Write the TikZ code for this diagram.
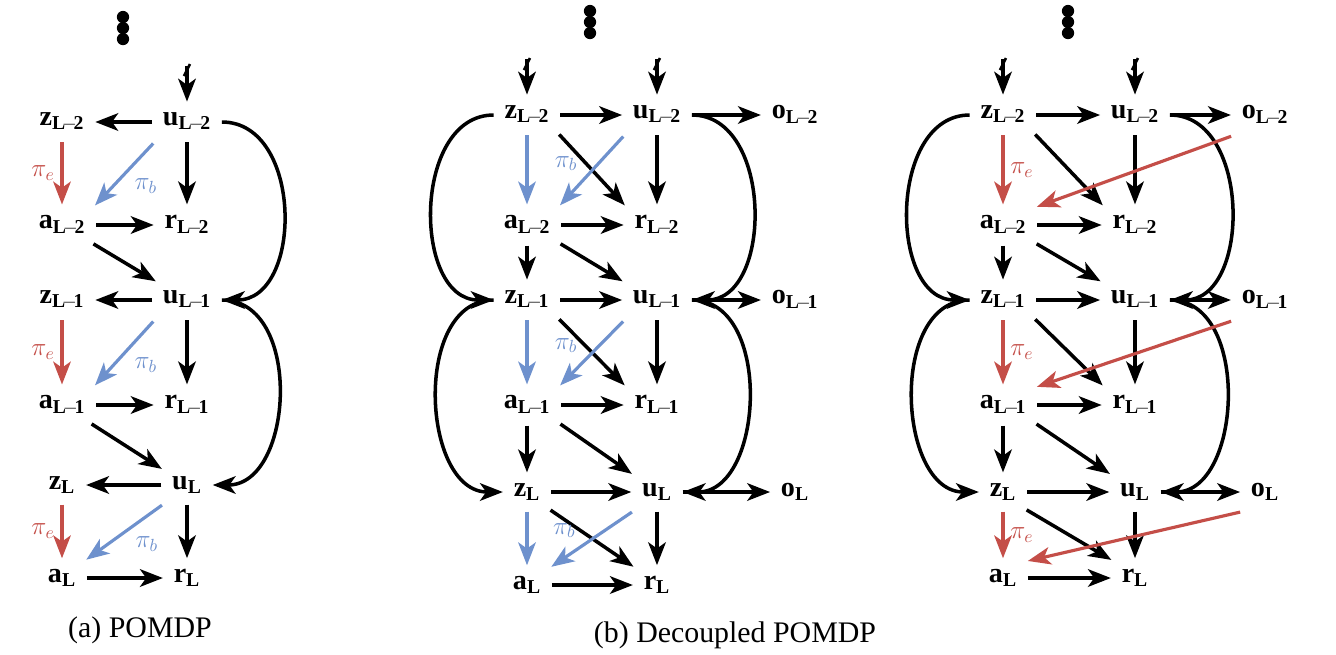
\documentclass[tikz,border=0pt]{standalone}
\usepackage{fontspec}
\setmainfont{Liberation Serif}
\usetikzlibrary{arrows.meta}
\definecolor{myred}{RGB}{196,78,72}
\definecolor{myblue}{RGB}{110,145,205}
\begin{document}
\begin{tikzpicture}[x=0.02cm,y=-0.02cm,
  v/.style={font=\fontsize{16}{18}\selectfont\bfseries, inner sep=4pt},
  e/.style={line width=2pt,-{Stealth[length=13pt,width=10pt,inset=3.5pt]},shorten >=2pt,shorten <=2pt},
  eb/.style={e,myblue,line width=1.8pt},
  er/.style={e,myred,line width=1.8pt},
  pl/.style={font=\fontsize{14}{16}\selectfont},
  dot/.style={circle,fill,inner sep=0pt,minimum size=7pt},
  captxt/.style={font=\fontsize{17}{20}\selectfont}]
\useasboundingbox (0,0) rectangle (1336,654);
\newcommand{\lb}[2]{#1$_{\mathbf{#2}}$}
\newcommand{\vdts}[3]{\node[dot] (#1a) at (#2,#3) {};\node[dot] (#1b) at (#2,#3+11) {};\node[dot] (#1c) at (#2,#3+22) {};}
% ---------- (a) ----------
\foreach \i/\s/\zy/\ay in {1/L\!-\!2/122/225,2/L\!-\!1/300/405,3/L/485/578}{
  \node[v] (Lz\i) at (62,\zy) {\lb{z}{\s}};
  \node[v] (Lu\i) at (187,\zy) {\lb{u}{\s}};
  \node[v] (La\i) at (62,\ay) {\lb{a}{\s}};
  \node[v] (Lr\i) at (187,\ay) {\lb{r}{\s}};
  \draw[e] (Lu\i) -- (Lz\i);
  \draw[e] (Lu\i) -- (Lr\i);
  \draw[e] (La\i) -- (Lr\i);
  \draw[er] (Lz\i) -- node[left,pl,myred]{$\pi_e$} (La\i);
  \draw[eb] (Lu\i.south west) ++(0,2) -- node[below right,pl,myblue,pos=0.45]{$\pi_b$} (La\i.north east);
}
\foreach \i/\j in {1/2,2/3}{
  \draw[e] (La\i) -- (Lu\j);
  \draw[e] (Lu\i.east) .. controls +(85,0) and +(85,0) .. (Lu\j.east);
}
\vdts{Ld}{123}{17}
\coordinate (Lt) at (187,62);
\draw[e] (Lt) -- (Lu1);
\draw[line width=1.5pt] (184,76) -- (190,64);
\node[captxt] (ca) at (140,630) {(a) POMDP};
% ---------- (b) and (c) ----------
\foreach \P/\zx/\ux/\ox/\ry in {M/527/657/795/585,R/1003/1135/1265/578}{
\foreach \i/\s/\zy/\ay in {1/L\!-\!2/115/225,2/L\!-\!1/300/405,3/L/492/\ry}{
  \node[v] (\P z\i) at (\zx,\zy) {\lb{z}{\s}};
  \node[v] (\P u\i) at (\ux,\zy) {\lb{u}{\s}};
  \node[v] (\P o\i) at (\ox,\zy) {\lb{o}{\s}};
  \node[v] (\P a\i) at (\zx,\ay) {\lb{a}{\s}};
  \node[v] (\P r\i) at (\ux,\ay) {\lb{r}{\s}};
  \draw[e] (\P z\i) -- (\P u\i);
  \draw[e] (\P u\i) -- (\P o\i);
  \draw[e] (\P u\i) -- (\P r\i);
  \draw[e] (\P a\i) -- (\P r\i);
  \draw[e] (\P z\i.south east) -- (\P r\i.north west);
}
\foreach \i/\j in {1/2,2/3}{
  \draw[e] (\P a\i) -- (\P z\j);
  \draw[e] (\P a\i.south east) -- (\P u\j.north west);
  \draw[e] (\P z\i.west) .. controls +(-85,0) and +(-85,0) .. (\P z\j.west);
  \draw[e] (\P u\i.east) .. controls +(85,0) and +(85,0) .. (\P u\j.east);
}
\coordinate (\P tz) at (\zx,55);
\coordinate (\P tu) at (\ux,55);
\draw[e] (\P tz) -- (\P z1);
\draw[e] (\P tu) -- (\P u1);
\draw[line width=1.5pt] (\zx-3,70) -- (\zx+3,58);
\draw[line width=1.5pt] (\ux-3,70) -- (\ux+3,58);
}
\foreach \i in {1,2,3}{
  \draw[eb] (Mz\i) -- (Ma\i);
  \draw[eb] (Mu\i.south west) ++(0,2) -- node[above left,pl,myblue,pos=0.6]{$\pi_b$} (Ma\i.north east);
  \draw[er] (Rz\i) -- node[right,pl,myred]{$\pi_e$} (Ra\i);
  \draw[er] (Ro\i.south west) ++(0,3) -- (Ra\i.north east);
}
\vdts{Md}{590}{11}
\vdts{Rd}{1068}{11}
\node[captxt] (cb) at (735,635) {(b) Decoupled POMDP};
\end{tikzpicture}
\end{document}
